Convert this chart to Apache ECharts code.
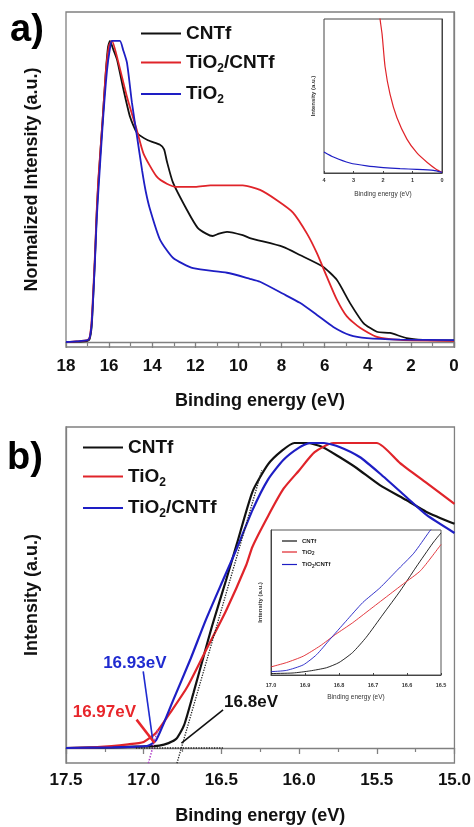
<!DOCTYPE html>
<html>
<head>
<meta charset="utf-8">
<script src="https://cdn.jsdelivr.net/npm/echarts@6/dist/echarts.min.js"></script>
<style>
  html, body { margin: 0; padding: 0; background: #fff; }
  #chart { width: 474px; height: 827px; }
</style>
</head>
<body>
<div id="chart"></div>
<script>
const FONT = 'Arial, "Liberation Sans", Helvetica, sans-serif'

// panel a) normalized UPS spectra, [binding energy eV, intensity]
const cntfA = [[18,0],[17.5,0.001],[17.0,0.004],[16.9,0.01],[16.81,0.05],[16.73,0.16],[16.65,0.29],[16.58,0.42],[16.5,0.53],[16.3,0.74],[16.15,0.9],[16.05,0.98],[15.96,1.0],[15.8,0.97],[15.63,0.937],[15.36,0.847],[15.03,0.748],[14.7,0.694],[14.2,0.67],[13.64,0.655],[13.45,0.64],[13.32,0.6],[13.04,0.53],[12.4,0.44],[11.9,0.38],[11.5,0.36],[11.2,0.352],[10.9,0.36],[10.53,0.366],[9.8,0.355],[9.47,0.345],[7.93,0.316],[7.15,0.289],[6.08,0.25],[5.43,0.206],[4.83,0.13],[4.2,0.063],[3.58,0.034],[2.97,0.03],[2.2,0.013],[1.44,0.007],[0,0.005]]
const tio2CntfA = [[18,0],[17.5,0.002],[17.0,0.006],[16.9,0.017],[16.81,0.073],[16.73,0.18],[16.65,0.3],[16.58,0.43],[16.5,0.54],[16.3,0.74],[16.15,0.9],[16.0,0.985],[15.87,1.0],[15.6,0.937],[15.17,0.814],[14.7,0.70],[14.4,0.625],[13.8,0.55],[13.3,0.525],[12.85,0.515],[12.0,0.515],[11.3,0.52],[9.8,0.52],[9.0,0.505],[8.2,0.47],[7.47,0.43],[6.82,0.36],[6.36,0.295],[5.9,0.217],[5.43,0.14],[4.97,0.085],[4.36,0.047],[3.58,0.017],[2.5,0.007],[0,0.004]]
const tio2A = [[18,0],[17.5,0.002],[17.0,0.006],[16.9,0.015],[16.81,0.06],[16.73,0.16],[16.65,0.28],[16.58,0.4],[16.5,0.5],[16.3,0.72],[16.1,0.9],[15.95,0.98],[15.87,1.0],[15.5,1.0],[15.35,0.97],[15.17,0.927],[14.94,0.794],[14.7,0.68],[14.47,0.57],[14.3,0.5],[14.1,0.44],[13.64,0.34],[13.04,0.28],[12.1,0.245],[10.53,0.23],[9.47,0.21],[9.0,0.2],[7.93,0.16],[7.15,0.13],[6.36,0.09],[5.6,0.05],[4.83,0.023],[4.04,0.013],[2.5,0.008],[0,0.006]]
// panel a) inset, valence band edge
const insetTio2CntfA = [[2.2,1.2],[2.1,1.0],[2.03,0.9],[1.93,0.69],[1.76,0.51],[1.53,0.36],[1.19,0.22],[0.85,0.13],[0.51,0.07],[0.2,0.025],[0,0.005]]
const insetTio2A = [[4,0.137],[3.68,0.104],[3.12,0.065],[2.55,0.046],[1.99,0.035],[1.42,0.028],[0.86,0.024],[0.29,0.017],[0,0.004]]

// panel b) secondary electron cutoff
const cntfB = [[17.5,0],[17.2,0.002],[17.0,0.005],[16.9,0.008],[16.84,0.016],[16.79,0.03],[16.74,0.075],[16.68,0.18],[16.62,0.29],[16.56,0.4],[16.47,0.55],[16.4,0.67],[16.3,0.84],[16.2,0.93],[16.11,0.975],[16.03,1.0],[15.95,1.0],[15.85,0.987],[15.74,0.954],[15.63,0.918],[15.48,0.862],[15.31,0.813],[15.18,0.774],[15.0,0.735]]
const tio2B = [[17.5,0],[17.3,0.003],[17.1,0.012],[17.0,0.02],[16.92,0.05],[16.83,0.115],[16.72,0.2],[16.6,0.32],[16.47,0.45],[16.34,0.6],[16.3,0.66],[16.2,0.76],[16.1,0.85],[16.0,0.91],[15.9,0.97],[15.78,1.0],[15.5,1.0],[15.35,0.934],[15.18,0.869],[15.0,0.80]]
const tio2CntfB = [[17.5,0],[17.2,0.002],[17.0,0.005],[16.96,0.01],[16.92,0.026],[16.88,0.07],[16.81,0.157],[16.7,0.29],[16.6,0.42],[16.49,0.55],[16.4,0.655],[16.3,0.78],[16.2,0.88],[16.1,0.945],[16.0,0.985],[15.93,1.0],[15.84,1.0],[15.74,0.987],[15.61,0.954],[15.48,0.9],[15.31,0.823],[15.18,0.764],[15.0,0.705]]
// panel b) inset
const insetCntfB = [[17.0,0.01],[16.935,0.014],[16.886,0.028],[16.837,0.05],[16.8,0.086],[16.76,0.155],[16.72,0.26],[16.67,0.42],[16.62,0.58],[16.573,0.745],[16.524,0.91],[16.5,0.98]]
const insetTio2B = [[17.0,0.056],[16.954,0.086],[16.905,0.13],[16.856,0.2],[16.81,0.28],[16.76,0.36],[16.71,0.45],[16.66,0.54],[16.61,0.63],[16.56,0.72],[16.5,0.9]]
const insetTio2CntfB = [[17.0,0.023],[16.954,0.032],[16.905,0.07],[16.866,0.14],[16.827,0.245],[16.78,0.37],[16.73,0.5],[16.68,0.6],[16.63,0.72],[16.58,0.84],[16.534,0.99],[16.52,1.03]]

// linear extrapolations used to read the onsets
const tangentCntf = [[16.786,-0.05],[16.24,0.91]]
const tangentTio2 = [[16.97,-0.05],[16.91,0.06]]
const baselineB = [[17.05,0],[16.49,0]]

// onset annotations: label, text position, arrow start, arrow end
const onsetText = ['16.93eV', '16.97eV', '16.8eV']
const onsetTextAt = [[17.057,0.279],[17.253,0.118],[16.309,0.151]]
const onsetArrowFrom = [[17.003,0.251],[17.046,0.093],[16.489,0.125]]
const onsetArrowTo = [[16.939,0.016],[16.93,0.016],[16.757,0.016]]
const onsetColor = ['#1f2bd0', '#e8262b', '#111']

const BLACK = '#111'
const RED = '#e0242a'
const BLUE = '#1e1ec4'
const FRAME = '#808080'

const labelMap = name => name.replace(/^\w:/, '').replace('TiO2', 'TiO{s|2}')

function curve(name, data, color, idx, width) {
  return {
    name: name,
    type: 'line',
    data: data.slice().sort((p, q) => p[0] - q[0]),
    xAxisIndex: idx,
    yAxisIndex: idx,
    symbol: 'none',
    smooth: 0.2,
    lineStyle: { color: color, width: width },
    itemStyle: { color: color },
    animation: false
  }
}

function mainX(idx, min, max, interval, margin, nameGap, digits) {
  return {
    gridIndex: idx, type: 'value', min: min, max: max, interval: interval, inverse: true,
    axisLine: { lineStyle: { color: FRAME, width: 1.3 } },
    axisTick: { length: 6, lineStyle: { color: FRAME, width: 1.3 } },
    minorTick: { show: true, splitNumber: 2, length: 4, lineStyle: { color: FRAME, width: 1.2 } },
    splitLine: { show: false },
    axisLabel: { color: BLACK, fontSize: 17, fontWeight: 'bold', fontFamily: FONT, margin: margin,
      formatter: v => v.toFixed(digits) },
    name: 'Binding energy (eV)', nameLocation: 'middle', nameGap: nameGap,
    nameTextStyle: { color: BLACK, fontSize: 18, fontWeight: 'bold', fontFamily: FONT }
  }
}

function mainY(idx, min, max, title) {
  return {
    gridIndex: idx, type: 'value', min: min, max: max,
    axisLine: { show: true, lineStyle: { color: FRAME, width: 1.3 } },
    axisTick: { show: false }, axisLabel: { show: false }, splitLine: { show: false },
    name: title, nameLocation: 'middle', nameGap: 25,
    nameTextStyle: { color: BLACK, fontSize: 18, fontWeight: 'bold', fontFamily: FONT }
  }
}

function insetX(idx, min, max, interval, digits, margin, nameGap) {
  return {
    gridIndex: idx, type: 'value', min: min, max: max, interval: interval, inverse: true,
    axisLine: { lineStyle: { color: '#444', width: 1 } },
    axisTick: { inside: true, length: 2, lineStyle: { color: '#444' } },
    splitLine: { show: false },
    axisLabel: { color: '#333', fontSize: 5.5, fontWeight: 'bold', fontFamily: FONT, margin: margin,
      formatter: v => v.toFixed(digits) },
    name: 'Binding energy (eV)', nameLocation: 'middle', nameGap: nameGap,
    nameTextStyle: { color: '#333', fontSize: 6.5, fontFamily: FONT }
  }
}

function insetY(idx) {
  return {
    gridIndex: idx, type: 'value', min: 0, max: 1,
    axisLine: { show: true, lineStyle: { color: '#444', width: 1 } },
    axisTick: { show: false }, axisLabel: { show: false }, splitLine: { show: false },
    name: 'Intensity (a.u.)', nameLocation: 'middle', nameGap: 8,
    nameTextStyle: { color: '#333', fontSize: 6, fontWeight: 'bold', fontFamily: FONT }
  }
}

function bigLegend(left, top, names) {
  return {
    left: left, top: top, orient: 'vertical', icon: 'rect', itemWidth: 40, itemHeight: 2.2, itemGap: 10,
    selectedMode: false, data: names, formatter: labelMap,
    textStyle: { color: BLACK, fontSize: 19, fontWeight: 'bold', fontFamily: FONT,
      rich: { s: { fontSize: 12, fontWeight: 'bold', fontFamily: FONT, padding: [12, 0, 0, 0] } } }
  }
}

const chart = echarts.init(document.getElementById('chart'))

const series = [
  curve('CNTf', cntfA, BLACK, 0, 1.8),
  curve('TiO2/CNTf', tio2CntfA, RED, 0, 1.8),
  curve('TiO2', tio2A, BLUE, 0, 1.8),
  curve('ia:TiO2/CNTf', insetTio2CntfA, RED, 1, 1.2),
  curve('ia:TiO2', insetTio2A, BLUE, 1, 1.2),
  curve('b:CNTf', cntfB, BLACK, 2, 2.2),
  curve('b:TiO2', tio2B, RED, 2, 2.2),
  curve('b:TiO2/CNTf', tio2CntfB, BLUE, 2, 2.2),
  curve('i:CNTf', insetCntfB, BLACK, 3, 0.9),
  curve('i:TiO2', insetTio2B, RED, 3, 0.9),
  curve('i:TiO2/CNTf', insetTio2CntfB, BLUE, 3, 0.9),
  {
    name: 'tangent', type: 'line', data: tangentCntf, xAxisIndex: 2, yAxisIndex: 2,
    symbol: 'none', lineStyle: { color: '#222', width: 1.3, type: 'dotted' }, animation: false
  },
  {
    name: 'tangent2', type: 'line', data: tangentTio2, xAxisIndex: 2, yAxisIndex: 2,
    symbol: 'none', lineStyle: { color: '#b040c8', width: 1.5, type: 'dotted' }, animation: false
  },
  {
    name: 'baseline', type: 'line', data: baselineB, xAxisIndex: 2, yAxisIndex: 2,
    symbol: 'none', lineStyle: { color: '#222', width: 1.3, type: 'dotted' }, animation: false,
    z: 5,
    markLine: {
      silent: true, animation: false, symbol: ['none', 'arrow'], symbolSize: [0, 9],
      label: { show: false },
      data: onsetText.map((t, i) => [
        { coord: onsetArrowFrom[i], lineStyle: { color: onsetColor[i], width: i === 1 ? 2.5 : 1.6, type: 'solid' } },
        { coord: onsetArrowTo[i] }
      ])
    },
    markPoint: {
      silent: true, animation: false, symbol: 'circle', symbolSize: 0,
      data: onsetText.map((t, i) => ({
        coord: onsetTextAt[i],
        label: { show: true, position: 'inside', formatter: t, color: onsetColor[i],
          fontSize: 17, fontWeight: 'bold', fontFamily: FONT }
      }))
    }
  }
]

chart.setOption({
  backgroundColor: '#fff',
  animation: false,
  grid: [
    { left: 66, top: 12, width: 388, height: 335, show: true, borderColor: FRAME, borderWidth: 1.3 },
    { left: 324, top: 19, width: 118, height: 154, show: true, borderColor: '#444', borderWidth: 1, backgroundColor: '#fff' },
    { left: 66, top: 427, width: 389, height: 336, show: true, borderColor: FRAME, borderWidth: 1.3 },
    { left: 271, top: 530, width: 170, height: 145, show: true, borderColor: '#555', borderWidth: 1, backgroundColor: '#fff' }
  ],
  xAxis: [
    mainX(0, 0, 18, 2, 11, 45, 0),
    insetX(1, 0, 4, 1, 0, 4, 18),
    mainX(2, 15, 17.5, 0.5, 9, 44, 1),
    insetX(3, 16.5, 17.0, 0.1, 1, 7, 19)
  ],
  yAxis: [
    mainY(0, -0.0166, 1.096, 'Normalized Intensity (a.u.)'),
    insetY(1),
    mainY(2, -0.0492, 1.0524, 'Intensity (a.u.)'),
    insetY(3)
  ],
  legend: [
    bigLegend(136, 19, ['CNTf', 'TiO2/CNTf', 'TiO2']),
    bigLegend(78, 433, ['b:CNTf', 'b:TiO2', 'b:TiO2/CNTf']),
    {
      left: 277, top: 533, orient: 'vertical', icon: 'rect', itemWidth: 15, itemHeight: 1.2, itemGap: 5,
      selectedMode: false, data: ['i:CNTf', 'i:TiO2', 'i:TiO2/CNTf'], formatter: labelMap,
      textStyle: { color: '#222', fontSize: 6, fontWeight: 'bold', fontFamily: FONT,
        rich: { s: { fontSize: 4.5, fontWeight: 'bold', fontFamily: FONT, padding: [4, 0, 0, 0] } } }
    }
  ],
  graphic: [
    { type: 'text', left: 10, top: 12, style: { text: 'a)', fontSize: 38, fontWeight: 'bold', fontFamily: FONT, fill: '#000' } },
    { type: 'text', left: 7, top: 440, style: { text: 'b)', fontSize: 38, fontWeight: 'bold', fontFamily: FONT, fill: '#000' } }
  ],
  series: series
})
</script>
</body>
</html>
